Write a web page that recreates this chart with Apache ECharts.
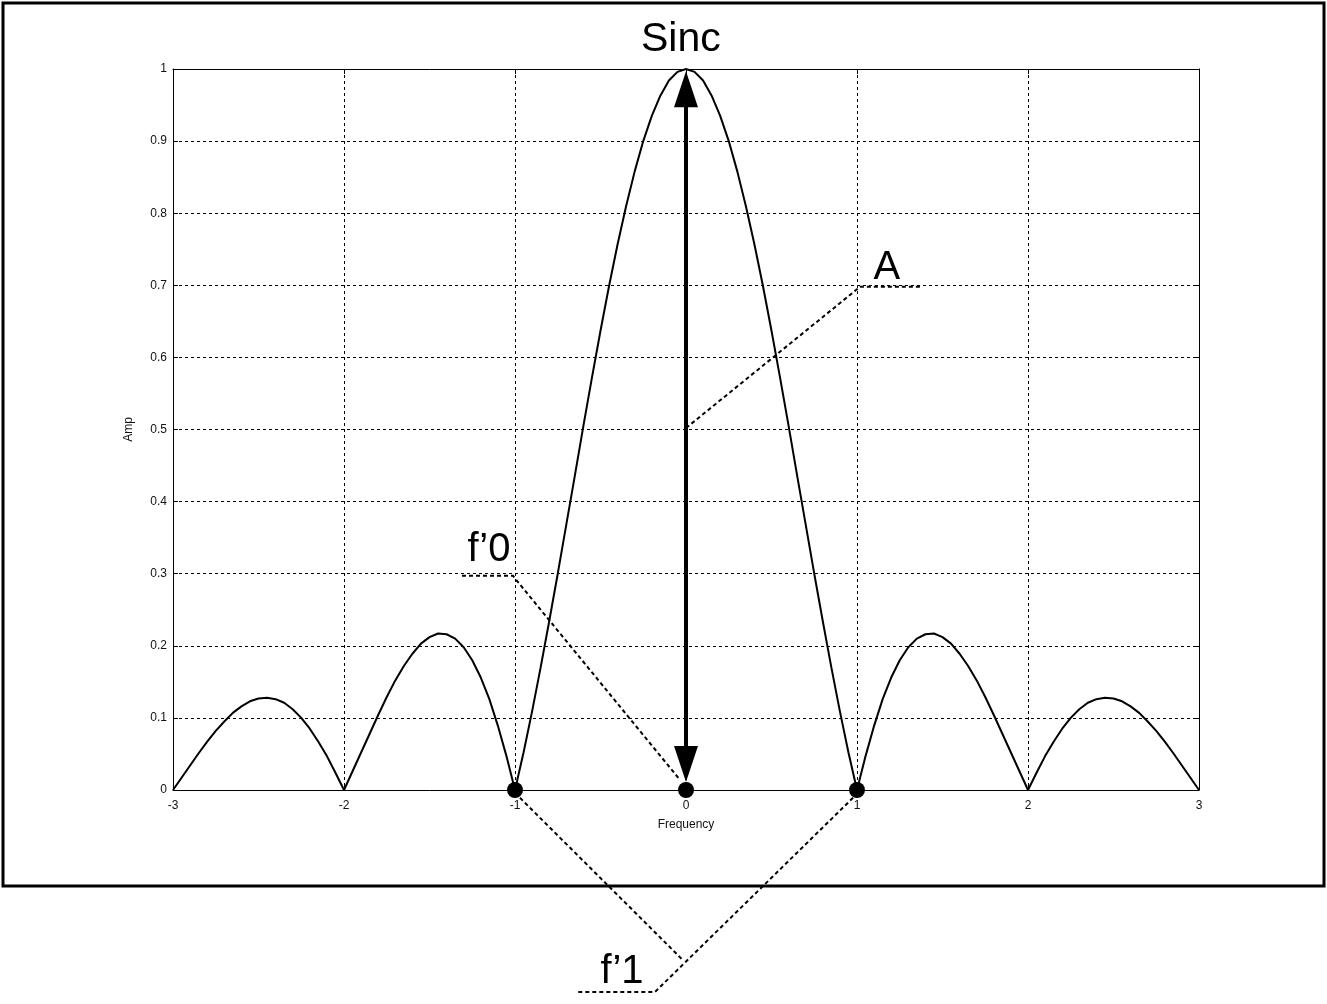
<!DOCTYPE html>
<html>
<head>
<meta charset="utf-8">
<script src="https://cdn.jsdelivr.net/npm/echarts@6/dist/echarts.min.js"></script>
<style>
  html, body { margin: 0; padding: 0; background: #fff; }
  #chart { width: 1327px; height: 1004px; }
</style>
</head>
<body>
<div id="chart"></div>
<script>
// frequency samples and |sinc| amplitude
const freq = [
  -3, -2.95, -2.9, -2.85, -2.8, -2.75, -2.7, -2.65, -2.6, -2.55,
  -2.5, -2.45, -2.4, -2.35, -2.3, -2.25, -2.2, -2.15, -2.1, -2.05,
  -2, -1.95, -1.9, -1.85, -1.8, -1.75, -1.7, -1.65, -1.6, -1.55,
  -1.5, -1.45, -1.4, -1.35, -1.3, -1.25, -1.2, -1.15, -1.1, -1.05,
  -1, -0.95, -0.9, -0.85, -0.8, -0.75, -0.7, -0.65, -0.6, -0.55,
  -0.5, -0.45, -0.4, -0.35, -0.3, -0.25, -0.2, -0.15, -0.1, -0.05,
  0,
  0.05, 0.1, 0.15, 0.2, 0.25, 0.3, 0.35, 0.4, 0.45, 0.5,
  0.55, 0.6, 0.65, 0.7, 0.75, 0.8, 0.85, 0.9, 0.95, 1,
  1.05, 1.1, 1.15, 1.2, 1.25, 1.3, 1.35, 1.4, 1.45, 1.5,
  1.55, 1.6, 1.65, 1.7, 1.75, 1.8, 1.85, 1.9, 1.95, 2,
  2.05, 2.1, 2.15, 2.2, 2.25, 2.3, 2.35, 2.4, 2.45, 2.5,
  2.55, 2.6, 2.65, 2.7, 2.75, 2.8, 2.85, 2.9, 2.95, 3
]
const amp = [
  0, 0.017, 0.034, 0.051, 0.067, 0.082, 0.095, 0.107, 0.116, 0.123,
  0.127, 0.128, 0.126, 0.121, 0.112, 0.100, 0.085, 0.067, 0.047, 0.024,
  0, 0.026, 0.052, 0.078, 0.104, 0.129, 0.152, 0.172, 0.189, 0.203,
  0.212, 0.217, 0.216, 0.210, 0.198, 0.180, 0.156, 0.126, 0.089, 0.047,
  0, 0.052, 0.109, 0.170, 0.234, 0.300, 0.368, 0.436, 0.505, 0.572,
  0.637, 0.699, 0.757, 0.810, 0.858, 0.900, 0.935, 0.963, 0.984, 0.996,
  1,
  0.996, 0.984, 0.963, 0.935, 0.900, 0.858, 0.810, 0.757, 0.699, 0.637,
  0.572, 0.505, 0.436, 0.368, 0.300, 0.234, 0.170, 0.109, 0.052, 0,
  0.047, 0.089, 0.126, 0.156, 0.180, 0.198, 0.210, 0.216, 0.217, 0.212,
  0.203, 0.189, 0.172, 0.152, 0.129, 0.104, 0.078, 0.052, 0.026, 0,
  0.024, 0.047, 0.067, 0.085, 0.100, 0.112, 0.121, 0.126, 0.128, 0.127,
  0.123, 0.116, 0.107, 0.095, 0.082, 0.067, 0.051, 0.034, 0.017, 0
]

// marked frequencies (f'1, f'0, f'1)
const markerFreq = [-1, 0, 1]
const markerAmp = [0, 0, 0]

// annotation anchors, in data units
const arrowTop = [0, 0.997]
const arrowBottom = [0, 0.011]
const leaderA = [[0, 0.502], [1.018, 0.698], [1.374, 0.698]]
const labelA = [1.175, 0.724]
const leaderF0 = [[-1.31, 0.297], [-1.012, 0.297], [-0.035, 0.014]]
const labelF0 = [-1.152, 0.333]
const leaderF1Left = [[-1, -0.004], [-0.018, -0.236]]
const leaderF1Right = [[1.006, -0.004], [-0.181, -0.280], [-0.632, -0.280]]
const labelF1 = [-0.374, -0.252]

const chart = echarts.init(document.getElementById('chart'))

const tickFont = { fontFamily: 'Liberation Sans', fontSize: 12, color: '#111' }
const dashed = { show: true, lineStyle: { color: '#000', width: 1, type: [3, 3] } }
const solidAxis = { show: true, onZero: false, lineStyle: { color: '#000', width: 1 } }
const inTicks = { show: true, inside: true, length: 5, lineStyle: { color: '#000' } }

const option = {
  animation: false,
  backgroundColor: '#fff',
  title: {
    text: 'Sinc',
    left: 636,
    top: 14,
    textStyle: { fontFamily: 'Liberation Sans', fontSize: 41, fontWeight: 'normal', color: '#000' }
  },
  grid: { left: 173, right: 128, top: 69, bottom: 214 },
  xAxis: [
    {
      type: 'value', min: -3, max: 3, interval: 1,
      name: 'Frequency', nameLocation: 'middle', nameGap: 29,
      nameTextStyle: tickFont,
      axisLine: solidAxis,
      axisTick: inTicks,
      axisLabel: Object.assign({ margin: 10 }, tickFont),
      splitLine: dashed,
      z: 2
    },
    {
      type: 'value', min: -3, max: 3, interval: 1, position: 'top',
      axisLine: solidAxis,
      axisTick: inTicks,
      axisLabel: { show: false },
      splitLine: { show: false },
      z: 2
    }
  ],
  yAxis: [
    {
      type: 'value', min: 0, max: 1, interval: 0.1,
      name: 'Amp', nameLocation: 'middle', nameGap: 38,
      nameTextStyle: tickFont,
      axisLine: solidAxis,
      axisTick: inTicks,
      axisLabel: Object.assign({ margin: 6 }, tickFont),
      splitLine: dashed,
      z: 2
    },
    {
      type: 'value', min: 0, max: 1, interval: 0.1, position: 'right',
      axisLine: solidAxis,
      axisTick: inTicks,
      axisLabel: { show: false },
      splitLine: { show: false },
      z: 2
    }
  ],
  series: [
    {
      name: 'Sinc',
      type: 'line',
      data: freq.map((f, i) => [f, amp[i]]),
      showSymbol: false,
      lineStyle: { color: '#000', width: 2 },
      z: 3
    },
    {
      name: 'markers',
      type: 'scatter',
      data: markerFreq.map((f, i) => [f, markerAmp[i]]),
      symbolSize: 16,
      itemStyle: { color: '#000', opacity: 1 },
      clip: false,
      z: 5
    }
  ]
}

chart.setOption(option)

// build the annotations once the axes exist
const px = p => chart.convertToPixel({ gridIndex: 0 }, p)
const dotStyle = { stroke: '#000', lineWidth: 2, lineDash: [4, 3], fill: null }
const leader = pts => ({ type: 'polyline', shape: { points: pts.map(px) }, style: dotStyle, z: 10 })
const label = (text, p) => {
  const q = px(p)
  return {
    type: 'text', x: q[0], y: q[1], z: 10,
    style: { text, fontFamily: 'Liberation Sans', fontSize: 40, fill: '#000', align: 'center', verticalAlign: 'middle' }
  }
}

const tipTop = px(arrowTop)
const tipBot = px(arrowBottom)
const headLen = 36, headHalf = 12

chart.setOption({
  graphic: [
    {
      type: 'rect',
      shape: { x: 3, y: 3, width: 1321, height: 883 },
      style: { stroke: '#000', lineWidth: 3, fill: null },
      silent: true
    },
    {
      type: 'line',
      shape: { x1: tipTop[0], y1: tipTop[1] + headLen - 2, x2: tipBot[0], y2: tipBot[1] - headLen + 2 },
      style: { stroke: '#000', lineWidth: 4 }, z: 11
    },
    {
      type: 'polygon',
      shape: { points: [[tipTop[0], tipTop[1]], [tipTop[0] - headHalf, tipTop[1] + headLen], [tipTop[0] + headHalf, tipTop[1] + headLen]] },
      style: { fill: '#000' }, z: 11
    },
    {
      type: 'polygon',
      shape: { points: [[tipBot[0], tipBot[1]], [tipBot[0] - headHalf, tipBot[1] - headLen], [tipBot[0] + headHalf, tipBot[1] - headLen]] },
      style: { fill: '#000' }, z: 11
    },
    leader(leaderA),
    leader(leaderF0),
    leader(leaderF1Left),
    leader(leaderF1Right),
    label('A', labelA),
    label('f’0', labelF0),
    label('f’1', labelF1)
  ]
})
</script>
</body>
</html>
